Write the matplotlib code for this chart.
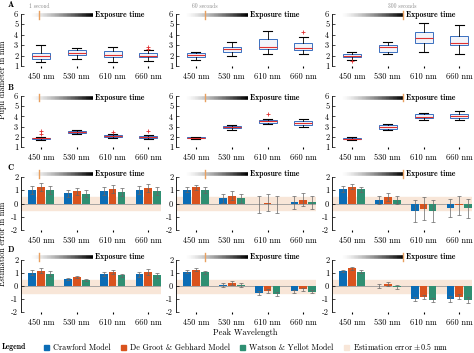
import numpy as np
import matplotlib
matplotlib.use('Agg')
import matplotlib.pyplot as plt
from matplotlib.collections import LineCollection
from matplotlib.patches import Patch

plt.rcParams['font.family'] = ['cmr10', 'DejaVu Serif']
plt.rcParams['mathtext.fontset'] = 'cm'
plt.rcParams['font.size'] = 6

wavelengths = ['450 nm', '530 nm', '610 nm', '660 nm']
exposures = ['1 second', '60 seconds', '300 seconds']
exposure_pos = [-0.05, 0.25, 1.42]
models = ['Crawford Model', 'De Groot & Gebhard Model', 'Watson & Yellot Model']
model_colors = ['#0b6cb5', '#d9531e', '#2f8f72']
diam_ticks = [1, 2, 3, 4, 5, 6]
err_ticks = [-2, -1, 0, 1, 2]
err_ticklabels = ['-2', '-1', '0', '1', '2']

# row A: measured pupil diameter (whislo, q1, med, q3, whishi)
measured = [
    [[1.4, 1.65, 1.95, 2.25, 3.0], [1.65, 2.05, 2.25, 2.55, 2.75],
     [1.4, 1.9, 2.05, 2.4, 2.85], [1.5, 1.85, 2.0, 2.2, 2.55]],
    [[1.6, 1.87, 2.05, 2.26, 2.35], [1.94, 2.29, 2.58, 2.84, 3.26],
     [2.13, 2.58, 2.84, 3.55, 4.35], [2.1, 2.52, 2.74, 3.16, 3.74]],
    [[1.55, 1.81, 2.0, 2.19, 2.35], [2.13, 2.35, 2.77, 3.0, 3.26],
     [2.3, 3.16, 3.65, 4.23, 5.1], [2.13, 3.0, 3.16, 3.9, 4.94]],
]
measured_out = [[[], [], [], [2.85, 2.6]], [[], [], [], [4.2]], [[1.45], [], [], []]]

# row B: pupil diameter of the model input
predicted = [
    [[1.72, 1.8, 1.85, 1.9, 1.98], [2.27, 2.37, 2.47, 2.57, 2.63],
     [1.88, 1.95, 2.05, 2.14, 2.24], [1.82, 1.88, 1.98, 2.08, 2.17]],
    [[1.8, 1.84, 1.9, 1.96, 2.0], [2.7, 2.83, 2.95, 3.06, 3.16],
     [3.25, 3.35, 3.52, 3.68, 3.78], [2.99, 3.19, 3.35, 3.58, 3.78]],
    [[1.65, 1.74, 1.82, 1.9, 2.0], [2.67, 2.77, 2.96, 3.16, 3.26],
     [3.67, 3.8, 3.99, 4.2, 4.33], [3.6, 3.8, 4.0, 4.2, 4.5]],
]
predicted_out = [[[2.6, 2.3], [], [2.45], [2.6]], [[], [], [4.2], []], [[], [], [], []]]

# row C: estimation error
crawford_c = [[1.04, 0.76, 0.91, 0.99], [1.04, 0.40, -0.05, 0.10], [1.10, 0.30, -0.55, -0.35]]
degroot_c = [[1.22, 0.91, 1.09, 1.16], [1.22, 0.58, 0.05, 0.30], [1.27, 0.48, -0.38, -0.15]]
watson_c = [[1.02, 0.74, 0.89, 0.97], [1.02, 0.38, -0.07, 0.08], [1.08, 0.28, -0.57, -0.37]]
err_c = [[0.3, 0.25, 0.3, 0.3], [0.2, 0.35, 0.65, 0.5], [0.2, 0.3, 0.85, 0.7]]

# row D: estimation error
crawford_d = [[1.02, 0.53, 0.89, 0.89], [1.1, 0.1, -0.55, -0.4], [1.15, 0.0, -1.02, -1.0]]
degroot_d = [[1.17, 0.68, 1.05, 1.07], [1.25, 0.25, -0.4, -0.25], [1.35, 0.15, -0.84, -0.82]]
watson_d = [[0.94, 0.48, 0.81, 0.81], [1.05, 0.05, -0.6, -0.45], [1.1, -0.05, -1.05, -1.08]]
err_d = [[0.2, 0.07, 0.15, 0.2], [0.12, 0.15, 0.15, 0.12], [0.1, 0.15, 0.15, 0.2]]

band_color = '#f8e6d8'
W, H = 474, 353
fig = plt.figure(figsize=(W / 100, H / 100), dpi=100)

col_left = [21, 176, 332]
ax_w = 140
rows = [(13.5, 66), (96, 147), (177, 230), (260, 312)]


def make_ax(c, r):
    top, bot = rows[r]
    return fig.add_axes([col_left[c] / W, 1 - bot / H, ax_w / W, (bot - top) / H])


def style(ax):
    for s in ['top', 'right', 'bottom']:
        ax.spines[s].set_visible(False)
    ax.spines['left'].set_linewidth(0.6)
    ax.tick_params(axis='y', direction='in', length=2, width=0.5, pad=2, labelsize=6)
    ax.tick_params(axis='x', direction='out', length=1.5, width=0.8, pad=3, labelsize=6)
    ax.set_xticks(range(4))
    ax.set_xticklabels(wavelengths)
    ax.set_xlim(-0.55, 3.35)


def exposure_bar(ax, c, ypos, show_label):
    x = np.linspace(-0.3, 1.45, 80)
    segs = [[(x[i], ypos), (x[i + 1], ypos)] for i in range(len(x) - 1)]
    t = np.linspace(0, 1, len(segs))
    cols = [(0, 0, 0, v ** 1.3) for v in t]
    lc = LineCollection(segs, colors=cols, linewidths=2.6,
                        transform=ax.get_xaxis_transform(), clip_on=False)
    ax.add_collection(lc)
    ax.text(1.5, ypos, 'Exposure time', family='cmb10', fontsize=5.6, va='center',
            ha='left', transform=ax.get_xaxis_transform(), clip_on=False)
    xp = exposure_pos[c]
    ax.plot([xp, xp], [ypos - 0.07, ypos + 0.07], color='#e8a060', lw=1.0,
            transform=ax.get_xaxis_transform(), clip_on=False)
    if show_label:
        ax.text(xp, ypos + 0.12, exposures[c], color='#888888', fontsize=4,
                ha='center', va='bottom', transform=ax.get_xaxis_transform())


def boxes(ax, stats, outs):
    bs = []
    for i in range(4):
        lo, q1, med, q3, hi = stats[i]
        bs.append(dict(whislo=lo, q1=q1, med=med, q3=q3, whishi=hi, fliers=outs[i]))
    ax.bxp(bs, positions=range(4), widths=0.5, patch_artist=True, manage_ticks=False,
           boxprops=dict(facecolor='#f2f4fa', edgecolor='#3a6fc0', linewidth=0.7),
           medianprops=dict(color='#e03030', linewidth=0.8),
           whiskerprops=dict(color='black', linewidth=0.6),
           capprops=dict(color='black', linewidth=0.8),
           flierprops=dict(marker='+', markeredgecolor='#e03030', markersize=3, markeredgewidth=0.6))
    ax.set_ylim(1, 6)
    ax.set_yticks(diam_ticks)


def bars(ax, c, vals, errs):
    ax.axhspan(-0.5, 0.5, color=band_color, zorder=0)
    ax.axhline(0, color='#999999', lw=0.6, zorder=1)
    pos = np.arange(4)
    for m in range(3):
        ax.bar(pos + (m - 1) * 0.25, vals[m][c], width=0.22, color=model_colors[m],
               yerr=errs[c], error_kw=dict(ecolor='#666666', elinewidth=0.5, capsize=1.2, capthick=0.5),
               zorder=2)
    ax.set_ylim(-2, 2)
    ax.set_yticks(err_ticks)
    ax.set_yticklabels(err_ticklabels)


for c in range(3):
    ax = make_ax(c, 0)
    boxes(ax, measured[c], measured_out[c])
    style(ax)
    exposure_bar(ax, c, 0.97, True)

    ax = make_ax(c, 1)
    boxes(ax, predicted[c], predicted_out[c])
    style(ax)
    exposure_bar(ax, c, 0.97, False)

    ax = make_ax(c, 2)
    bars(ax, c, [crawford_c, degroot_c, watson_c], err_c)
    style(ax)
    exposure_bar(ax, c, 1.06, False)

    ax = make_ax(c, 3)
    bars(ax, c, [crawford_d, degroot_d, watson_d], err_d)
    style(ax)
    exposure_bar(ax, c, 1.06, False)

for lab, y in zip('ABCD', [5, 88, 168, 250]):
    fig.text(8 / W, 1 - y / H, lab, family='cmb10', fontsize=6, ha='left', va='center', zorder=5)

fig.text(3 / W, 1 - 80 / H, 'Pupil diameter in mm', rotation=90, ha='center', va='center', fontsize=5.8)
fig.text(3 / W, 1 - 244 / H, 'Estimation error in mm', rotation=90, ha='center', va='center', fontsize=5.8)
fig.text(245 / W, 1 - 333 / H, 'Peak Wavelength', ha='center', va='center', fontsize=6)

fig.text(2 / W, 1 - 347 / H, 'Legend', family='cmb10', fontsize=5.6, ha='left', va='center')
handles = [Patch(color=model_colors[m]) for m in range(3)] + [Patch(color=band_color)]
labels = models + [r'Estimation error $\pm$0.5 mm']
fig.legend(handles, labels, loc='center left', bbox_to_anchor=(44 / W, 1 - 347 / H), ncol=4,
           frameon=False, fontsize=5.8, handlelength=0.6, handleheight=0.6,
           handletextpad=0.5, columnspacing=1.3, borderaxespad=0, borderpad=0)

fig.savefig('out.png', dpi=100)
